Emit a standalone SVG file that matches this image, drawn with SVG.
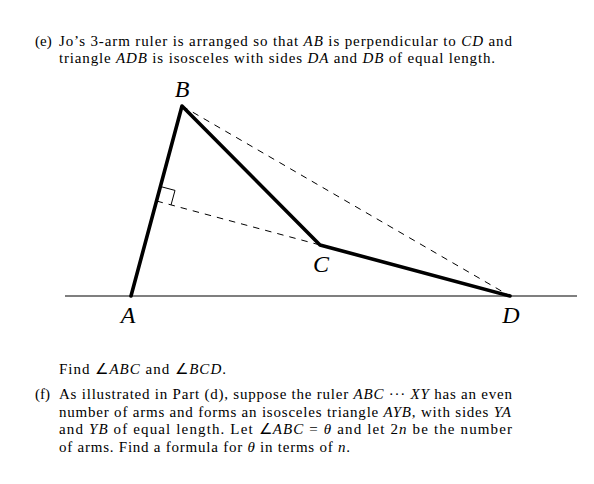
<svg xmlns="http://www.w3.org/2000/svg" width="594" height="484" viewBox="0 0 594 484">
<style>
.t{font-family:"Liberation Serif","Times New Roman",serif;font-size:15px;fill:#000}
.i{font-style:italic}
.lbl{font-family:"Liberation Serif","Times New Roman",serif;font-size:24px;font-style:italic;text-anchor:middle;fill:#000}
.arm{stroke:#000;stroke-width:3.6;fill:none;stroke-linecap:round;stroke-linejoin:round}
.dash{stroke:#000;stroke-width:1;fill:none;stroke-dasharray:6.5,6}
.base{stroke:#000;stroke-width:1.2;fill:none}
</style>
<rect width="594" height="484" fill="#fff"/>
<g id="text-e">
<text class="t" x="35" y="46">(e)</text>
<text class="t" x="59" y="46" textLength="453" lengthAdjust="spacing">Jo’s 3-arm ruler is arranged so that <tspan class="i">AB</tspan> is perpendicular to <tspan class="i">CD</tspan> and</text>
<text class="t" x="59" y="63" textLength="436" lengthAdjust="spacing">triangle <tspan class="i">ADB</tspan> is isosceles with sides <tspan class="i">DA</tspan> and <tspan class="i">DB</tspan> of equal length.</text>
</g>
<g id="connectors">
<line class="base" x1="65" y1="296" x2="577" y2="296"/>
<line class="dash" x1="182" y1="106" x2="510" y2="296"/>
<line class="dash" x1="156.5" y1="201" x2="320" y2="245"/>
<path d="M160.4,186.5 L175,190.4 L171,205" fill="none" stroke="#000" stroke-width="1"/>
<polyline class="arm" points="131,296 182,106 320,245 510,296"/>
</g>
<g id="node-B"><text class="lbl" x="182" y="97">B</text></g>
<g id="node-C"><text class="lbl" x="321" y="272">C</text></g>
<g id="node-A"><text class="lbl" x="128" y="323">A</text></g>
<g id="node-D"><text class="lbl" x="511" y="323">D</text></g>
<g id="text-find">
<text class="t" x="59" y="374" textLength="167" lengthAdjust="spacing">Find ∠<tspan class="i">ABC</tspan> and ∠<tspan class="i">BCD</tspan>.</text>
</g>
<g id="text-f">
<text class="t" x="35" y="399">(f)</text>
<text class="t" x="59" y="399" textLength="453" lengthAdjust="spacing">As illustrated in Part (d), suppose the ruler <tspan class="i">ABC</tspan> ··· <tspan class="i">XY</tspan> has an even</text>
<text class="t" x="59" y="416.5" textLength="452" lengthAdjust="spacing">number of arms and forms an isosceles triangle <tspan class="i">AYB</tspan>, with sides <tspan class="i">YA</tspan></text>
<text class="t" x="59" y="434" textLength="453" lengthAdjust="spacing">and <tspan class="i">YB</tspan> of equal length. Let ∠<tspan class="i">ABC</tspan> = <tspan class="i">θ</tspan> and let 2<tspan class="i">n</tspan> be the number</text>
<text class="t" x="59" y="451.5" textLength="291" lengthAdjust="spacing">of arms. Find a formula for <tspan class="i">θ</tspan> in terms of <tspan class="i">n</tspan>.</text>
</g>
</svg>
